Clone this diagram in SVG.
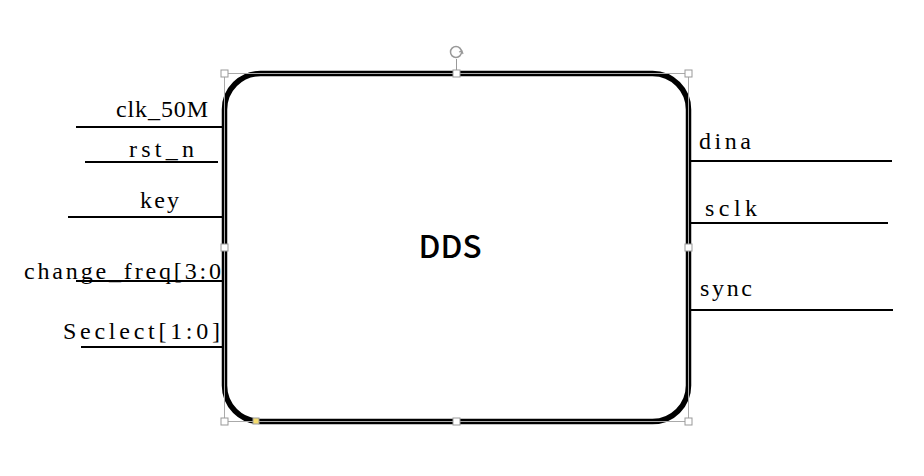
<svg xmlns="http://www.w3.org/2000/svg" width="924" height="476" viewBox="0 0 924 476">
<style>
.lbl{font-family:"Liberation Serif","DejaVu Serif",serif;font-size:24px;fill:#000}
.wire{stroke:#000;stroke-width:2;fill:none}
.h{fill:#fff;stroke:#999;stroke-width:1}
</style>
<rect width="924" height="476" fill="#fff"/>
<g id="dds">
<rect x="224.5" y="73.5" width="464" height="348" rx="36" ry="36" fill="#fff" stroke="#000" stroke-width="5.5"/>
<rect x="224.5" y="73.5" width="464" height="348" fill="none" stroke="#aaa" stroke-width="1"/>
<text x="450" y="258" text-anchor="middle" font-family="'Noto Sans CJK SC','Liberation Sans',sans-serif" font-size="31" font-weight="500" textLength="63" lengthAdjust="spacingAndGlyphs">DDS</text>
</g>
<g id="connectors">
<line class="wire" x1="76" y1="127" x2="222" y2="127"/>
<line class="wire" x1="85" y1="162" x2="218" y2="162"/>
<line class="wire" x1="68" y1="217" x2="222" y2="217"/>
<line class="wire" x1="76" y1="281" x2="222" y2="281"/>
<line class="wire" x1="81" y1="347" x2="222" y2="347"/>
<line class="wire" x1="690" y1="161" x2="892" y2="161"/>
<line class="wire" x1="690" y1="223" x2="888" y2="223"/>
<line class="wire" x1="690" y1="310" x2="893" y2="310"/>
</g>
<g id="labels">
<text class="lbl" x="116" y="117" textLength="92">clk_50M</text>
<text class="lbl" x="129" y="157" textLength="65">rst_n</text>
<text class="lbl" x="140" y="208" textLength="39">key</text>
<text class="lbl" x="24" y="279" textLength="197">change_freq[3:0</text>
<text class="lbl" x="63" y="339" textLength="157">Seclect[1:0]</text>
<text class="lbl" x="699" y="149" textLength="52">dina</text>
<text class="lbl" x="705" y="216" textLength="52">sclk</text>
<text class="lbl" x="700" y="296" textLength="52">sync</text>
</g>
<g id="handles">
<line x1="456.5" y1="59" x2="456.5" y2="70" stroke="#999" stroke-width="1"/>
<circle cx="456" cy="52" r="5.5" fill="none" stroke="#999" stroke-width="1.5"/>
<path d="M459 52 l3 -1 l1 3" fill="none" stroke="#999" stroke-width="1.2"/>
<rect class="h" x="221" y="70" width="7" height="7"/>
<rect class="h" x="453" y="70" width="7" height="7"/>
<rect class="h" x="685" y="70" width="7" height="7"/>
<rect class="h" x="221" y="244" width="7" height="7"/>
<rect class="h" x="685" y="244" width="7" height="7"/>
<rect class="h" x="221" y="418" width="7" height="7"/>
<rect class="h" x="453" y="418" width="7" height="7"/>
<rect class="h" x="685" y="418" width="7" height="7"/>
<rect x="253" y="418" width="6" height="6" fill="#f5dc6e" stroke="#999" stroke-width="1"/>
</g>
</svg>
